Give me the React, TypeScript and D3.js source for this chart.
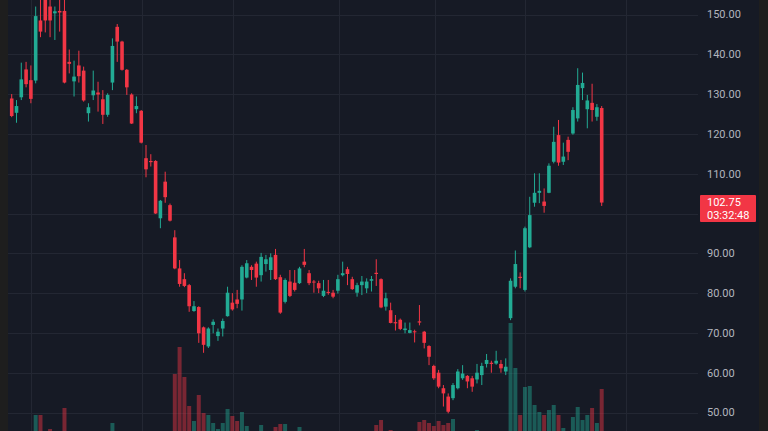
import React, { useEffect } from 'react';
import * as d3 from 'd3';

const opens = [
  128.9, 125.3, 129.2, 136.2, 133.5, 133.4, 148.5, 155.0, 152.0, 150.3,
  150.9, 150.9, 138.1, 133.2, 137.2, 135.9, 125.2, 129.7, 130.4, 128.7,
  124.8, 132.9, 146.9, 143.2, 136.1, 129.9, 126.2, 125.8, 113.9, 113.2,
  113.2, 98.8, 108.0, 102.1, 94.0, 86.2, 83.5, 82.0, 75.5, 76.5,
  71.4, 66.6, 72.0, 69.2, 71.1, 74.2, 77.6, 78.4, 78.4, 83.9,
  86.6, 87.4, 84.5, 87.3, 85.8, 89.6, 84.0, 77.8, 82.9, 82.6,
  82.5, 87.9, 85.0, 82.9, 82.5, 79.3, 80.3, 80.1, 80.6, 84.5,
  86.0, 83.5, 80.1, 82.0, 81.2, 83.1, 85.1, 83.5, 76.6, 75.7,
  72.7, 73.3, 70.7, 70.0, 70.4, 72.9, 70.3, 66.7, 61.7, 60.0,
  56.1, 54.0, 53.6, 56.1, 58.6, 59.2, 58.6, 58.3, 59.4, 62.2,
  62.5, 62.3, 62.2, 60.3, 73.7, 81.6, 84.1, 80.8, 91.5, 102.7,
  105.2, 103.0, 105.2, 113.0, 119.7, 113.0, 118.5, 120.1, 123.9, 131.5,
  126.2, 127.8, 124.3, 126.5,
];
const highs = [
  130.0, 128.5, 137.9, 138.1, 137.2, 152.0, 154.2, 156.0, 154.5, 152.0,
  154.5, 154.0, 141.2, 138.4, 140.9, 136.9, 127.7, 135.9, 133.1, 131.0,
  130.2, 144.0, 147.6, 143.4, 136.3, 130.2, 129.4, 126.0, 117.2, 114.9,
  113.4, 103.4, 110.5, 102.5, 95.8, 88.3, 85.0, 82.3, 78.0, 76.7,
  71.6, 71.4, 73.4, 71.1, 73.6, 81.6, 80.0, 80.8, 87.0, 88.3,
  87.0, 87.9, 90.1, 89.6, 90.0, 91.1, 84.6, 83.7, 85.8, 85.8,
  86.6, 91.1, 85.8, 83.3, 83.1, 83.3, 83.3, 80.8, 84.6, 87.9,
  86.6, 84.1, 82.6, 84.3, 83.7, 84.3, 88.5, 83.7, 80.1, 77.6,
  74.5, 73.6, 72.6, 72.6, 70.8, 77.0, 70.5, 66.9, 62.0, 60.7,
  56.9, 54.8, 57.4, 60.9, 61.9, 59.4, 59.2, 62.2, 62.5, 64.7,
  63.0, 65.5, 63.2, 63.6, 83.7, 90.7, 85.2, 96.7, 104.2, 110.1,
  110.1, 106.3, 112.6, 121.8, 123.5, 117.8, 119.3, 126.7, 136.5, 135.4,
  129.8, 132.6, 127.5, 127.0,
];
const lows = [
  124.2, 122.8, 128.5, 131.7, 127.7, 132.7, 144.3, 145.5, 144.3, 143.6,
  145.7, 132.7, 135.2, 129.4, 132.9, 128.1, 123.1, 128.5, 125.6, 122.5,
  124.3, 131.0, 138.1, 135.9, 129.8, 122.5, 125.2, 117.6, 109.1, 111.8,
  99.9, 96.3, 102.7, 98.0, 86.0, 81.6, 81.5, 75.3, 75.3, 67.5,
  65.0, 66.2, 69.9, 68.0, 69.1, 74.1, 75.6, 76.2, 75.6, 83.7,
  83.3, 81.6, 82.9, 85.4, 83.3, 83.3, 74.8, 77.4, 79.0, 80.4,
  82.3, 86.5, 82.0, 80.1, 80.0, 79.0, 79.6, 78.7, 79.9, 84.2,
  82.0, 80.8, 79.1, 79.5, 80.0, 80.4, 81.8, 76.2, 75.6, 72.4,
  70.6, 70.7, 69.9, 69.9, 67.6, 71.9, 66.1, 61.9, 58.2, 56.1,
  51.5, 49.8, 53.1, 55.8, 58.2, 56.1, 55.2, 57.3, 56.9, 61.3,
  60.0, 62.0, 60.0, 59.4, 73.2, 81.2, 81.2, 80.4, 91.3, 101.7,
  102.6, 100.2, 105.1, 112.6, 112.0, 112.2, 113.4, 119.8, 123.1, 128.5,
  121.4, 123.1, 123.3, 101.9,
];
const closes = [
  124.5, 127.0, 133.7, 132.5, 128.8, 149.6, 145.7, 148.5, 148.5, 150.8,
  150.5, 132.9, 137.6, 134.4, 134.5, 128.4, 126.7, 130.9, 129.9, 124.8,
  129.8, 142.1, 143.2, 136.1, 131.7, 122.6, 127.0, 117.8, 111.1, 112.9,
  100.0, 103.2, 104.1, 98.2, 86.2, 82.3, 81.8, 76.7, 76.7, 69.9,
  67.0, 71.1, 72.8, 70.3, 73.0, 80.1, 75.9, 77.3, 86.6, 87.5,
  85.8, 83.9, 89.1, 88.5, 89.0, 83.5, 75.1, 83.3, 79.3, 80.8,
  86.2, 87.1, 82.5, 82.7, 81.2, 80.6, 80.1, 79.1, 83.5, 85.0,
  84.8, 81.0, 82.0, 82.9, 82.9, 83.5, 84.8, 76.4, 78.7, 72.5,
  72.4, 71.0, 71.1, 70.7, 70.2, 72.6, 67.5, 64.0, 58.6, 56.5,
  54.8, 50.2, 56.9, 60.3, 59.8, 57.8, 56.5, 60.0, 61.7, 63.2,
  62.2, 63.0, 61.1, 61.5, 83.1, 87.3, 83.8, 96.3, 99.6, 105.2,
  105.7, 101.9, 112.0, 118.0, 112.8, 114.3, 115.5, 126.0, 132.3, 132.8,
  128.4, 126.0, 126.7, 102.75,
];
const volumes = [
  38, 30, 42, 35, 40, 65, 65, 45, 51, 36,
  40, 72, 38, 34, 32, 40, 30, 33, 28, 36,
  30, 57, 40, 38, 35, 44, 28, 46, 42, 30,
  47, 40, 35, 45, 106, 133, 103, 74, 59, 85,
  67, 65, 57, 51, 57, 71, 64, 59, 68, 54,
  44, 46, 55, 42, 47, 53, 56, 56, 45, 40,
  53, 42, 38, 32, 35, 36, 30, 33, 40, 38,
  36, 40, 34, 30, 32, 30, 55, 60, 44, 50,
  38, 36, 32, 30, 35, 58, 60, 57, 54, 59,
  55, 57, 61, 46, 40, 38, 42, 50, 45, 44,
  36, 40, 38, 42, 157, 112, 65, 93, 94, 75,
  68, 65, 70, 75, 65, 52, 45, 63, 73, 60,
  65, 72, 57, 91,
];
const priceTicks = [50, 60, 70, 80, 90, 100, 110, 120, 130, 140, 150];
const timeGridIndex = [4.1, 27.1, 46.1, 68.2, 88.2, 107.1, 128];
const lastPriceLabel = '102.75';
const countdownLabel = '03:32:48';

const W = 768;
const H = 431;
const UP = '#22ab94';
const DOWN = '#f23645';
const BG = '#161a25';

export default function App() {
  useEffect(() => {
    document.body.style.margin = '0';
    document.body.style.background = '#1e1e1e';
  }, []);

  const n = opens.length;
  const x = d3.scaleLinear().domain([0, n - 1]).range([11.7, 601.7]);
  const y = d3.scaleLinear().domain([50, 150]).range([412.5, 14.5]);
  const yVol = d3.scaleLinear().domain([0, 160]).range([480, 320]);
  const plotLeft = 8;
  const plotRight = 698;
  const bodyW = 3.6;
  const volW = 4;

  const idx = d3.range(n);
  const boxTop = 195;
  const boxH = 27;
  // axis labels hidden where the last-price box covers them
  const visibleTicks = priceTicks.filter((t) => {
    const ty = y(t);
    return ty + 6 < boxTop || ty - 6 > boxTop + boxH;
  });

  return (
    <svg
      width={W}
      height={H}
      style={{ position: 'absolute', left: 0, top: 0, display: 'block' }}
      fontFamily="Roboto, 'Noto Sans', sans-serif"
    >
      <defs>
        <clipPath id="plot">
          <rect x={plotLeft} y={0} width={plotRight - plotLeft} height={H} />
        </clipPath>
      </defs>
      <rect x={0} y={0} width={W} height={H} fill="#1e1e1e" />
      <rect x={plotLeft} y={0} width={759 - plotLeft} height={H} fill={BG} />

      <g stroke="#232733" strokeWidth={1}>
        {priceTicks.map((t) => (
          <line key={'h' + t} x1={plotLeft} x2={plotRight} y1={Math.round(y(t)) + 0.5} y2={Math.round(y(t)) + 0.5} />
        ))}
        {timeGridIndex.map((t) => (
          <line key={'v' + t} x1={Math.round(x(t)) + 0.5} x2={Math.round(x(t)) + 0.5} y1={0} y2={H} />
        ))}
      </g>

      <g clipPath="url(#plot)">
        {idx.map((i) => {
          const up = closes[i] >= opens[i];
          const c = up ? UP : DOWN;
          return (
            <rect
              key={'vol' + i}
              x={x(i) - volW / 2}
              y={yVol(volumes[i])}
              width={volW}
              height={yVol(0) - yVol(volumes[i])}
              fill={c}
              fillOpacity={0.45}
            />
          );
        })}
        {idx.map((i) => {
          const up = closes[i] >= opens[i];
          const c = up ? UP : DOWN;
          const top = y(Math.max(opens[i], closes[i]));
          const bot = y(Math.min(opens[i], closes[i]));
          return (
            <g key={'c' + i}>
              <line x1={x(i)} x2={x(i)} y1={y(highs[i])} y2={y(lows[i])} stroke={c} strokeWidth={1} />
              <rect x={x(i) - bodyW / 2} y={top} width={bodyW} height={Math.max(1, bot - top)} fill={c} />
            </g>
          );
        })}
      </g>

      <g fontSize={11} fill="#b2b5be">
        {visibleTicks.map((t) => (
          <text key={'l' + t} x={707} y={y(t)} dy="0.35em">
            {d3.format('.2f')(t)}
          </text>
        ))}
      </g>

      <rect x={700} y={boxTop} width={56} height={boxH} fill={DOWN} rx={1} />
      <text x={707} y={205.5} fontSize={11} fill="#ffffff">{lastPriceLabel}</text>
      <text x={707} y={218.5} fontSize={11} fill="#ffffff">{countdownLabel}</text>
    </svg>
  );
}
